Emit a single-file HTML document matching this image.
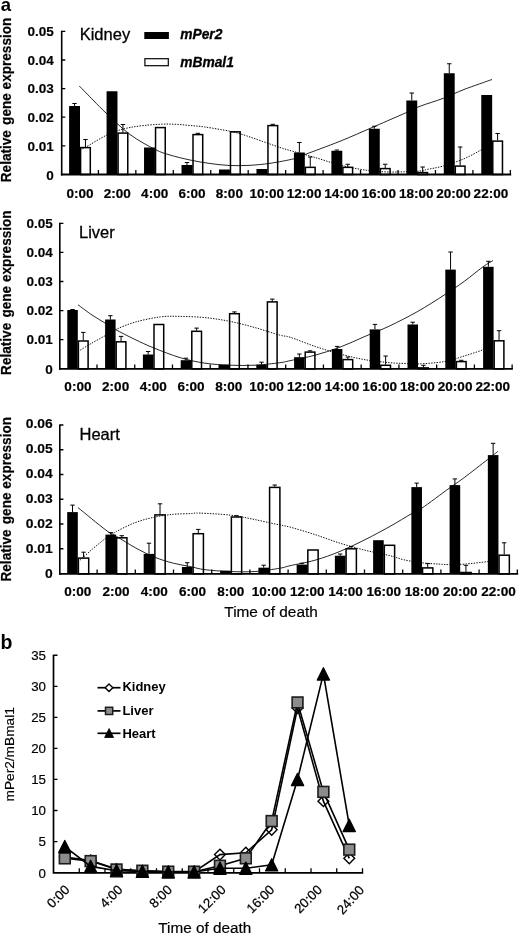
<!DOCTYPE html>
<html lang="en"><head><meta charset="utf-8"><title>Figure</title>
<style>html,body{margin:0;padding:0;background:#fff}svg{display:block}</style>
</head><body>
<svg width="519" height="934" viewBox="0 0 519 934" font-family="'Liberation Sans', sans-serif" fill="#000">
<rect x="0" y="0" width="519" height="934" fill="#fff"/>
<defs><filter id="soft" x="0" y="0" width="100%" height="100%" filterUnits="userSpaceOnUse"><feGaussianBlur stdDeviation="0.32"/></filter></defs>
<g filter="url(#soft)">
<g>
<path d="M74.55 106V103.5M72.35 103.5H76.75" stroke="#000" stroke-width="1" fill="none"/>
<rect x="69.1" y="106" width="10.9" height="68.5" fill="#000"/>
<path d="M85.45 147V139.5M83.25 139.5H87.65" stroke="#000" stroke-width="1" fill="none"/>
<rect x="80.6" y="147.6" width="9.7" height="26.9" fill="#fff" stroke="#000" stroke-width="1.5"/>
<rect x="106.57" y="91.25" width="10.9" height="83.25" fill="#000"/>
<path d="M122.92 132.5V124.5M120.72 124.5H125.12" stroke="#000" stroke-width="1" fill="none"/>
<rect x="118.07" y="133.1" width="9.7" height="41.4" fill="#fff" stroke="#000" stroke-width="1.5"/>
<rect x="144.04" y="147.5" width="10.9" height="27" fill="#000"/>
<rect x="155.54" y="127.6" width="9.7" height="46.9" fill="#fff" stroke="#000" stroke-width="1.5"/>
<path d="M186.96 165V162.5M184.76 162.5H189.16" stroke="#000" stroke-width="1" fill="none"/>
<rect x="181.51" y="165" width="10.9" height="9.5" fill="#000"/>
<path d="M197.86 134V133.3M195.66 133.3H200.06" stroke="#000" stroke-width="1" fill="none"/>
<rect x="193.01" y="134.6" width="9.7" height="39.9" fill="#fff" stroke="#000" stroke-width="1.5"/>
<rect x="218.98" y="169.5" width="10.9" height="5" fill="#000"/>
<rect x="230.48" y="131.85" width="9.7" height="42.65" fill="#fff" stroke="#000" stroke-width="1.5"/>
<rect x="256.45" y="169" width="10.9" height="5.5" fill="#000"/>
<path d="M272.8 125V124.3M270.6 124.3H275" stroke="#000" stroke-width="1" fill="none"/>
<rect x="267.95" y="125.6" width="9.7" height="48.9" fill="#fff" stroke="#000" stroke-width="1.5"/>
<path d="M299.37 152.5V142.5M297.17 142.5H301.57" stroke="#000" stroke-width="1" fill="none"/>
<rect x="293.92" y="152.5" width="10.9" height="22" fill="#000"/>
<path d="M310.27 166.75V157M308.07 157H312.47" stroke="#000" stroke-width="1" fill="none"/>
<rect x="305.42" y="167.35" width="9.7" height="7.15" fill="#fff" stroke="#000" stroke-width="1.5"/>
<path d="M336.84 150.75V150M334.64 150H339.04" stroke="#000" stroke-width="1" fill="none"/>
<rect x="331.39" y="150.75" width="10.9" height="23.75" fill="#000"/>
<path d="M347.74 166.75V164.25M345.54 164.25H349.94" stroke="#000" stroke-width="1" fill="none"/>
<rect x="342.89" y="167.35" width="9.7" height="7.15" fill="#fff" stroke="#000" stroke-width="1.5"/>
<path d="M374.31 128.75V126.25M372.11 126.25H376.51" stroke="#000" stroke-width="1" fill="none"/>
<rect x="368.86" y="128.75" width="10.9" height="45.75" fill="#000"/>
<path d="M385.21 168V164.25M383.01 164.25H387.41" stroke="#000" stroke-width="1" fill="none"/>
<rect x="380.36" y="168.6" width="9.7" height="5.9" fill="#fff" stroke="#000" stroke-width="1.5"/>
<path d="M411.78 100.5V93M409.58 93H413.98" stroke="#000" stroke-width="1" fill="none"/>
<rect x="406.33" y="100.5" width="10.9" height="74" fill="#000"/>
<path d="M422.68 172V167M420.48 167H424.88" stroke="#000" stroke-width="1" fill="none"/>
<rect x="417.83" y="172.6" width="9.7" height="1.9" fill="#fff" stroke="#000" stroke-width="1.5"/>
<path d="M449.25 73.25V63.75M447.05 63.75H451.45" stroke="#000" stroke-width="1" fill="none"/>
<rect x="443.8" y="73.25" width="10.9" height="101.25" fill="#000"/>
<path d="M460.15 165.5V147M457.95 147H462.35" stroke="#000" stroke-width="1" fill="none"/>
<rect x="455.3" y="166.1" width="9.7" height="8.4" fill="#fff" stroke="#000" stroke-width="1.5"/>
<rect x="481.27" y="95" width="10.9" height="79.5" fill="#000"/>
<path d="M497.62 140.5V133.5M495.42 133.5H499.82" stroke="#000" stroke-width="1" fill="none"/>
<rect x="492.77" y="141.1" width="9.7" height="33.4" fill="#fff" stroke="#000" stroke-width="1.5"/>
<path d="M79.3 86C81.58 88.33 88.42 95.38 93 100C97.58 104.62 100.58 108 106.75 113.75C112.92 119.5 121.96 128.56 130 134.5C138.04 140.44 148.33 145.98 155 149.4C161.67 152.82 164.17 153.23 170 155C175.83 156.77 183.33 158.58 190 160C196.67 161.42 203.33 162.58 210 163.5C216.67 164.42 223.33 165.2 230 165.5C236.67 165.8 243.33 165.67 250 165.3C256.67 164.93 262.67 164.39 270 163.3C277.33 162.21 288.17 160.22 294 158.75C299.83 157.28 297.33 157.42 305 154.5C312.67 151.58 328.33 145.96 340 141.25C351.67 136.54 363.92 131.04 375 126.25C386.08 121.46 399 115.83 406.5 112.5C414 109.17 413.85 108.62 420 106.25C426.15 103.88 436.07 101.04 443.4 98.25C450.73 95.46 455.9 92.62 464 89.5C472.1 86.38 487.33 81.17 492 79.5" stroke="#000" stroke-width="0.85" fill="none"/>
<path d="M80 149.5C80.83 149.17 80.53 149.92 85 147.5C89.47 145.08 101.3 137.83 106.8 135C112.3 132.17 114.13 131.75 118 130.5C121.87 129.25 125.67 128.33 130 127.5C134.33 126.67 139 126.04 144 125.5C149 124.96 154.83 124.46 160 124.25C165.17 124.04 170 124.04 175 124.25C180 124.46 185 125.04 190 125.5C195 125.96 198.33 126.04 205 127C211.67 127.96 224.17 130.12 230 131.25C235.83 132.38 235.83 132.5 240 133.75C244.17 135 248.33 136.46 255 138.75C261.67 141.04 273.7 145.42 280 147.5C286.3 149.58 286.97 149.58 292.8 151.25C298.63 152.92 307.13 155.21 315 157.5C322.87 159.79 331.67 162.92 340 165C348.33 167.08 356.67 168.83 365 170C373.33 171.17 380.83 171.83 390 172C399.17 172.17 413.9 171.42 420 171C426.1 170.58 422.7 170.33 426.6 169.5C430.5 168.67 437.17 167.79 443.4 166C449.63 164.21 457.73 161.42 464 158.75C470.27 156.08 476.33 152.62 481 150C485.67 147.38 490.17 144.17 492 143" stroke="#000" stroke-width="0.95" stroke-dasharray="1.4 1.3" fill="none"/>
<path d="M61.7 30.8V175.45" stroke="#000" stroke-width="1.6" fill="none"/>
<path d="M60.9 174.5H511.2" stroke="#000" stroke-width="1.9" fill="none"/>
<path d="M61.7 145.8h3.6M61.7 117.2h3.6M61.7 88.6h3.6M61.7 60h3.6M61.7 31.4h3.6M98.4 174.5v-4.5M135.85 174.5v-4.5M173.3 174.5v-4.5M210.75 174.5v-4.5M248.2 174.5v-4.5M285.65 174.5v-4.5M323.1 174.5v-4.5M360.55 174.5v-4.5M398 174.5v-4.5M435.45 174.5v-4.5M472.9 174.5v-4.5M510.35 174.5v-4.5" stroke="#000" stroke-width="1.3" fill="none"/>
<g font-size="12.8" font-weight="bold" text-anchor="end" stroke="#000" stroke-width="0.15">
<text transform="translate(53.9 179.5) scale(1.06 1)">0</text>
<text transform="translate(53.9 150.76) scale(1.06 1)">0.01</text>
<text transform="translate(53.9 122.02) scale(1.06 1)">0.02</text>
<text transform="translate(53.9 93.28) scale(1.06 1)">0.03</text>
<text transform="translate(53.9 64.54) scale(1.06 1)">0.04</text>
<text transform="translate(53.9 35.8) scale(1.06 1)">0.05</text>
</g>
<g font-size="12.9" font-weight="bold" text-anchor="middle" stroke="#000" stroke-width="0.2">
<text transform="translate(79.95 197.6) scale(1.05 1)">0:00</text>
<text transform="translate(117.31 197.6) scale(1.05 1)">2:00</text>
<text transform="translate(154.67 197.6) scale(1.05 1)">4:00</text>
<text transform="translate(192.03 197.6) scale(1.05 1)">6:00</text>
<text transform="translate(229.39 197.6) scale(1.05 1)">8:00</text>
<text transform="translate(266.75 197.6) scale(1.05 1)">10:00</text>
<text transform="translate(304.11 197.6) scale(1.05 1)">12:00</text>
<text transform="translate(341.47 197.6) scale(1.05 1)">14:00</text>
<text transform="translate(378.83 197.6) scale(1.05 1)">16:00</text>
<text transform="translate(416.19 197.6) scale(1.05 1)">18:00</text>
<text transform="translate(453.55 197.6) scale(1.05 1)">20:00</text>
<text transform="translate(490.91 197.6) scale(1.05 1)">22:00</text>
</g>
<g font-size="13.6" font-weight="bold" stroke="#000" stroke-width="0.2">
<text transform="translate(10.7 182.2) rotate(-90) scale(1 1.08)">Relative</text>
<text transform="translate(10.7 124.9) rotate(-90) scale(1 1.08)">gene</text>
<text transform="translate(10.7 89.4) rotate(-90) scale(1 1.08)">expression</text>
</g>
<text x="79.7" y="39.6" font-size="16.5" stroke="#000" stroke-width="0.3">Kidney</text>
</g>
<g>
<path d="M72.55 310V309.5M70.35 309.5H74.75" stroke="#000" stroke-width="1" fill="none"/>
<rect x="67.3" y="310" width="10.5" height="58.9" fill="#000"/>
<path d="M83.25 340.4V332.4M81.05 332.4H85.45" stroke="#000" stroke-width="1" fill="none"/>
<rect x="78.4" y="341" width="9.7" height="27.9" fill="#fff" stroke="#000" stroke-width="1.5"/>
<path d="M110.35 319.5V315.7M108.15 315.7H112.55" stroke="#000" stroke-width="1" fill="none"/>
<rect x="105.1" y="319.5" width="10.5" height="49.4" fill="#000"/>
<path d="M121.05 341.2V336.4M118.85 336.4H123.25" stroke="#000" stroke-width="1" fill="none"/>
<rect x="116.2" y="341.8" width="9.7" height="27.1" fill="#fff" stroke="#000" stroke-width="1.5"/>
<path d="M148.15 354.5V351.5M145.95 351.5H150.35" stroke="#000" stroke-width="1" fill="none"/>
<rect x="142.9" y="354.5" width="10.5" height="14.4" fill="#000"/>
<rect x="154" y="324.5" width="9.7" height="44.4" fill="#fff" stroke="#000" stroke-width="1.5"/>
<path d="M185.95 360.2V358.2M183.75 358.2H188.15" stroke="#000" stroke-width="1" fill="none"/>
<rect x="180.7" y="360.2" width="10.5" height="8.7" fill="#000"/>
<path d="M196.65 330.7V328.1M194.45 328.1H198.85" stroke="#000" stroke-width="1" fill="none"/>
<rect x="191.8" y="331.3" width="9.7" height="37.6" fill="#fff" stroke="#000" stroke-width="1.5"/>
<rect x="218.5" y="364.7" width="10.5" height="4.2" fill="#000"/>
<path d="M234.45 313.1V311.9M232.25 311.9H236.65" stroke="#000" stroke-width="1" fill="none"/>
<rect x="229.6" y="313.7" width="9.7" height="55.2" fill="#fff" stroke="#000" stroke-width="1.5"/>
<path d="M261.55 364.7V362.2M259.35 362.2H263.75" stroke="#000" stroke-width="1" fill="none"/>
<rect x="256.3" y="364.7" width="10.5" height="4.2" fill="#000"/>
<path d="M272.25 301.3V299.1M270.05 299.1H274.45" stroke="#000" stroke-width="1" fill="none"/>
<rect x="267.4" y="301.9" width="9.7" height="67" fill="#fff" stroke="#000" stroke-width="1.5"/>
<path d="M299.35 357.2V354M297.15 354H301.55" stroke="#000" stroke-width="1" fill="none"/>
<rect x="294.1" y="357.2" width="10.5" height="11.7" fill="#000"/>
<path d="M310.05 351.5V350.8M307.85 350.8H312.25" stroke="#000" stroke-width="1" fill="none"/>
<rect x="305.2" y="352.1" width="9.7" height="16.8" fill="#fff" stroke="#000" stroke-width="1.5"/>
<path d="M337.15 349V346.4M334.95 346.4H339.35" stroke="#000" stroke-width="1" fill="none"/>
<rect x="331.9" y="349" width="10.5" height="19.9" fill="#000"/>
<path d="M347.85 359V357M345.65 357H350.05" stroke="#000" stroke-width="1" fill="none"/>
<rect x="343" y="359.6" width="9.7" height="9.3" fill="#fff" stroke="#000" stroke-width="1.5"/>
<path d="M374.95 329.4V324.4M372.75 324.4H377.15" stroke="#000" stroke-width="1" fill="none"/>
<rect x="369.7" y="329.4" width="10.5" height="39.5" fill="#000"/>
<path d="M385.65 364.7V356M383.45 356H387.85" stroke="#000" stroke-width="1" fill="none"/>
<rect x="380.8" y="365.3" width="9.7" height="3.6" fill="#fff" stroke="#000" stroke-width="1.5"/>
<path d="M412.75 324.5V322.2M410.55 322.2H414.95" stroke="#000" stroke-width="1" fill="none"/>
<rect x="407.5" y="324.5" width="10.5" height="44.4" fill="#000"/>
<path d="M423.45 367.3V365.3M421.25 365.3H425.65" stroke="#000" stroke-width="1" fill="none"/>
<rect x="418.6" y="367.9" width="9.7" height="1" fill="#fff" stroke="#000" stroke-width="1.5"/>
<path d="M450.55 269.6V252M448.35 252H452.75" stroke="#000" stroke-width="1" fill="none"/>
<rect x="445.3" y="269.6" width="10.5" height="99.3" fill="#000"/>
<path d="M461.25 361V360.3M459.05 360.3H463.45" stroke="#000" stroke-width="1" fill="none"/>
<rect x="456.4" y="361.6" width="9.7" height="7.3" fill="#fff" stroke="#000" stroke-width="1.5"/>
<path d="M488.35 266.8V261.3M486.15 261.3H490.55" stroke="#000" stroke-width="1" fill="none"/>
<rect x="483.1" y="266.8" width="10.5" height="102.1" fill="#000"/>
<path d="M499.05 340.2V330.7M496.85 330.7H501.25" stroke="#000" stroke-width="1" fill="none"/>
<rect x="494.2" y="340.8" width="9.7" height="28.1" fill="#fff" stroke="#000" stroke-width="1.5"/>
<path d="M78 304.8C80.33 306.5 87.5 311.97 92 315C96.5 318.03 101.07 320.57 105 323C108.93 325.43 110.6 326.85 115.6 329.6C120.6 332.35 128.73 336.48 135 339.5C141.27 342.52 145.65 344.67 153.2 347.7C160.75 350.73 171.67 355.12 180.3 357.7C188.93 360.28 196.72 361.95 205 363.2C213.28 364.45 221.67 364.87 230 365.2C238.33 365.53 246.67 365.62 255 365.2C263.33 364.78 274.17 363.45 280 362.7C285.83 361.95 284.17 361.95 290 360.7C295.83 359.45 306.67 357.45 315 355.2C323.33 352.95 331.67 350.33 340 347.2C348.33 344.07 356.75 339.93 365 336.4C373.25 332.87 380.7 330.17 389.5 326C398.3 321.83 408.57 316.63 417.8 311.4C427.03 306.17 437.17 299.6 444.9 294.6C452.63 289.6 457.85 286.03 464.2 281.4C470.55 276.77 478.2 270.27 483 266.8C487.8 263.33 491.33 261.63 493 260.6" stroke="#000" stroke-width="0.85" fill="none"/>
<path d="M78 351.5C80.33 350.08 87.48 345.63 92 343C96.52 340.37 101.17 337.93 105.1 335.7C109.03 333.47 110.58 331.87 115.6 329.6C120.62 327.33 127.75 324.22 135.2 322.1C142.65 319.98 152.83 317.85 160.3 316.9C167.77 315.95 172.55 316.28 180 316.4C187.45 316.52 196.67 316.77 205 317.6C213.33 318.43 221.67 319.73 230 321.4C238.33 323.07 246.67 325.3 255 327.6C263.33 329.9 274.17 333.6 280 335.2C285.83 336.8 284.17 335.33 290 337.2C295.83 339.07 306.67 343.6 315 346.4C323.33 349.2 331.67 351.78 340 354C348.33 356.22 356.67 358.25 365 359.7C373.33 361.15 383.33 362.07 390 362.7C396.67 363.33 400.37 363.28 405 363.5C409.63 363.72 411.15 364.33 417.8 364C424.45 363.67 437.17 362.83 444.9 361.5C452.63 360.17 457.85 357.95 464.2 356C470.55 354.05 478.2 351.63 483 349.8C487.8 347.97 491.33 345.8 493 345" stroke="#000" stroke-width="0.95" stroke-dasharray="1.4 1.3" fill="none"/>
<path d="M59.8 222.8V369.85" stroke="#000" stroke-width="1.6" fill="none"/>
<path d="M59 368.9H512.8" stroke="#000" stroke-width="1.9" fill="none"/>
<path d="M59.8 339.64h3.6M59.8 310.58h3.6M59.8 281.52h3.6M59.8 252.46h3.6M59.8 223.4h3.6M97 368.9v-4.5M134.74 368.9v-4.5M172.48 368.9v-4.5M210.22 368.9v-4.5M247.96 368.9v-4.5M285.7 368.9v-4.5M323.44 368.9v-4.5M361.18 368.9v-4.5M398.92 368.9v-4.5M436.66 368.9v-4.5M474.4 368.9v-4.5M512.14 368.9v-4.5" stroke="#000" stroke-width="1.3" fill="none"/>
<g font-size="12.8" font-weight="bold" text-anchor="end" stroke="#000" stroke-width="0.15">
<text transform="translate(52.8 373.5) scale(1.06 1)">0</text>
<text transform="translate(52.8 344.3) scale(1.06 1)">0.01</text>
<text transform="translate(52.8 315.1) scale(1.06 1)">0.02</text>
<text transform="translate(52.8 285.9) scale(1.06 1)">0.03</text>
<text transform="translate(52.8 256.7) scale(1.06 1)">0.04</text>
<text transform="translate(52.8 227.5) scale(1.06 1)">0.05</text>
</g>
<g font-size="12.9" font-weight="bold" text-anchor="middle" stroke="#000" stroke-width="0.2">
<text transform="translate(77.9 391.3) scale(1.05 1)">0:00</text>
<text transform="translate(115.62 391.3) scale(1.05 1)">2:00</text>
<text transform="translate(153.34 391.3) scale(1.05 1)">4:00</text>
<text transform="translate(191.06 391.3) scale(1.05 1)">6:00</text>
<text transform="translate(228.78 391.3) scale(1.05 1)">8:00</text>
<text transform="translate(266.5 391.3) scale(1.05 1)">10:00</text>
<text transform="translate(304.22 391.3) scale(1.05 1)">12:00</text>
<text transform="translate(341.94 391.3) scale(1.05 1)">14:00</text>
<text transform="translate(379.66 391.3) scale(1.05 1)">16:00</text>
<text transform="translate(417.38 391.3) scale(1.05 1)">18:00</text>
<text transform="translate(455.1 391.3) scale(1.05 1)">20:00</text>
<text transform="translate(492.82 391.3) scale(1.05 1)">22:00</text>
</g>
<g font-size="13.6" font-weight="bold" stroke="#000" stroke-width="0.2">
<text transform="translate(11 374.9) rotate(-90) scale(1 1.08)">Relative</text>
<text transform="translate(11 317.6) rotate(-90) scale(1 1.08)">gene</text>
<text transform="translate(11 282.1) rotate(-90) scale(1 1.08)">expression</text>
</g>
<text x="79" y="237.6" font-size="16.5" stroke="#000" stroke-width="0.3">Liver</text>
</g>
<g>
<path d="M72.5 512.1V505.1M70.3 505.1H74.7" stroke="#000" stroke-width="1" fill="none"/>
<rect x="67.2" y="512.1" width="10.6" height="61.8" fill="#000"/>
<path d="M83.55 557.5V552.2M81.35 552.2H85.75" stroke="#000" stroke-width="1" fill="none"/>
<rect x="78.4" y="558.1" width="10.3" height="15.8" fill="#fff" stroke="#000" stroke-width="1.5"/>
<path d="M110.74 534.6V532.6M108.54 532.6H112.94" stroke="#000" stroke-width="1" fill="none"/>
<rect x="105.44" y="534.6" width="10.6" height="39.3" fill="#000"/>
<path d="M121.79 537.2V535.7M119.59 535.7H123.99" stroke="#000" stroke-width="1" fill="none"/>
<rect x="116.64" y="537.8" width="10.3" height="36.1" fill="#fff" stroke="#000" stroke-width="1.5"/>
<path d="M148.98 553.9V543.2M146.78 543.2H151.18" stroke="#000" stroke-width="1" fill="none"/>
<rect x="143.68" y="553.9" width="10.6" height="20" fill="#000"/>
<path d="M160.03 514.3V503.8M157.83 503.8H162.23" stroke="#000" stroke-width="1" fill="none"/>
<rect x="154.88" y="514.9" width="10.3" height="59" fill="#fff" stroke="#000" stroke-width="1.5"/>
<path d="M187.22 567V562.7M185.02 562.7H189.42" stroke="#000" stroke-width="1" fill="none"/>
<rect x="181.92" y="567" width="10.6" height="6.9" fill="#000"/>
<path d="M198.27 533.1V529.4M196.07 529.4H200.47" stroke="#000" stroke-width="1" fill="none"/>
<rect x="193.12" y="533.7" width="10.3" height="40.2" fill="#fff" stroke="#000" stroke-width="1.5"/>
<rect x="220.16" y="570.7" width="10.6" height="3.2" fill="#000"/>
<path d="M236.51 516.4V515.7M234.31 515.7H238.71" stroke="#000" stroke-width="1" fill="none"/>
<rect x="231.36" y="517" width="10.3" height="56.9" fill="#fff" stroke="#000" stroke-width="1.5"/>
<path d="M263.7 567.7V565.2M261.5 565.2H265.9" stroke="#000" stroke-width="1" fill="none"/>
<rect x="258.4" y="567.7" width="10.6" height="6.2" fill="#000"/>
<path d="M274.75 486.8V485M272.55 485H276.95" stroke="#000" stroke-width="1" fill="none"/>
<rect x="269.6" y="487.4" width="10.3" height="86.5" fill="#fff" stroke="#000" stroke-width="1.5"/>
<path d="M301.94 564.6V563.2M299.74 563.2H304.14" stroke="#000" stroke-width="1" fill="none"/>
<rect x="296.64" y="564.6" width="10.6" height="9.3" fill="#000"/>
<rect x="307.84" y="550" width="10.3" height="23.9" fill="#fff" stroke="#000" stroke-width="1.5"/>
<path d="M340.18 555.7V554M337.98 554H342.38" stroke="#000" stroke-width="1" fill="none"/>
<rect x="334.88" y="555.7" width="10.6" height="18.2" fill="#000"/>
<path d="M351.23 548.2V546.4M349.03 546.4H353.43" stroke="#000" stroke-width="1" fill="none"/>
<rect x="346.08" y="548.8" width="10.3" height="25.1" fill="#fff" stroke="#000" stroke-width="1.5"/>
<rect x="373.12" y="540.2" width="10.6" height="33.7" fill="#000"/>
<rect x="384.32" y="545.3" width="10.3" height="28.6" fill="#fff" stroke="#000" stroke-width="1.5"/>
<path d="M416.66 487.1V483.1M414.46 483.1H418.86" stroke="#000" stroke-width="1" fill="none"/>
<rect x="411.36" y="487.1" width="10.6" height="86.8" fill="#000"/>
<path d="M427.71 567.3V563.6M425.51 563.6H429.91" stroke="#000" stroke-width="1" fill="none"/>
<rect x="422.56" y="567.9" width="10.3" height="6" fill="#fff" stroke="#000" stroke-width="1.5"/>
<path d="M454.9 485.1V478.9M452.7 478.9H457.1" stroke="#000" stroke-width="1" fill="none"/>
<rect x="449.6" y="485.1" width="10.6" height="88.8" fill="#000"/>
<path d="M465.95 571.9V565.3M463.75 565.3H468.15" stroke="#000" stroke-width="1" fill="none"/>
<rect x="460.8" y="572.5" width="10.3" height="1.4" fill="#fff" stroke="#000" stroke-width="1.5"/>
<path d="M493.14 455.1V443.3M490.94 443.3H495.34" stroke="#000" stroke-width="1" fill="none"/>
<rect x="487.84" y="455.1" width="10.6" height="118.8" fill="#000"/>
<path d="M504.19 554.6V542.8M501.99 542.8H506.39" stroke="#000" stroke-width="1" fill="none"/>
<rect x="499.04" y="555.2" width="10.3" height="18.7" fill="#fff" stroke="#000" stroke-width="1.5"/>
<path d="M78 507.6C82.65 511.35 99.47 525.3 105.9 530.1C112.33 534.9 111.72 533.47 116.6 536.4C121.48 539.33 128.85 544.23 135.2 547.7C141.55 551.17 148.35 554.62 154.7 557.2C161.05 559.78 167.42 561.65 173.3 563.2C179.18 564.75 184.72 565.42 190 566.5C195.28 567.58 198.33 568.87 205 569.7C211.67 570.53 221.67 571.2 230 571.5C238.33 571.8 246.67 572.05 255 571.5C263.33 570.95 274.17 569.17 280 568.2C285.83 567.23 284.17 567.03 290 565.7C295.83 564.37 306.67 562.58 315 560.2C323.33 557.82 331.67 554.82 340 551.4C348.33 547.98 356.67 543.87 365 539.7C373.33 535.53 382.28 530.72 390 526.4C397.72 522.08 406 516.83 411.3 513.8C416.6 510.77 415.45 512.48 421.8 508.2C428.15 503.92 442.33 493.2 449.4 488.1C456.47 483 457.85 482.35 464.2 477.6C470.55 472.85 481.87 463.98 487.5 459.6C493.13 455.22 496.25 452.68 498 451.3" stroke="#000" stroke-width="0.85" fill="none"/>
<path d="M80 560.2C82.1 558.32 88.28 552.57 92.6 548.9C96.92 545.23 101.9 541.12 105.9 538.2C109.9 535.28 111.72 534 116.6 531.4C121.48 528.8 128.85 524.98 135.2 522.6C141.55 520.22 148.35 518.48 154.7 517.1C161.05 515.72 167.42 514.88 173.3 514.3C179.18 513.72 185.55 513.8 190 513.6C194.45 513.4 193.33 512.85 200 513.1C206.67 513.35 220.83 514.02 230 515.1C239.17 516.18 246.67 517.93 255 519.6C263.33 521.27 274.17 523.85 280 525.1C285.83 526.35 284.17 525.52 290 527.1C295.83 528.68 306.67 531.92 315 534.6C323.33 537.28 331.67 540.6 340 543.2C348.33 545.8 356.67 548.12 365 550.2C373.33 552.28 383.5 554.1 390 555.7C396.5 557.3 398.7 558.62 404 559.8C409.3 560.98 415.95 562.08 421.8 562.8C427.65 563.52 434.5 563.8 439.1 564.1C443.7 564.4 445.22 564.6 449.4 564.6C453.58 564.6 457.85 564.6 464.2 564.1C470.55 563.6 481.87 562.37 487.5 561.6C493.13 560.83 496.25 559.85 498 559.5" stroke="#000" stroke-width="0.95" stroke-dasharray="1.4 1.3" fill="none"/>
<path d="M59.8 424.4V574.85" stroke="#000" stroke-width="1.6" fill="none"/>
<path d="M59 573.9H518.2" stroke="#000" stroke-width="1.9" fill="none"/>
<path d="M59.8 548.75h3.6M59.8 524h3.6M59.8 499.25h3.6M59.8 474.5h3.6M59.8 449.75h3.6M59.8 425h3.6M97.1 573.9v-4.5M135.3 573.9v-4.5M173.5 573.9v-4.5M211.7 573.9v-4.5M249.9 573.9v-4.5M288.1 573.9v-4.5M326.3 573.9v-4.5M364.5 573.9v-4.5M402.7 573.9v-4.5M440.9 573.9v-4.5M479.1 573.9v-4.5M517.3 573.9v-4.5" stroke="#000" stroke-width="1.3" fill="none"/>
<g font-size="13.1" font-weight="bold" text-anchor="end" stroke="#000" stroke-width="0.15">
<text transform="translate(52.8 577.5) scale(1.06 1)">0</text>
<text transform="translate(52.8 552.63) scale(1.06 1)">0.01</text>
<text transform="translate(52.8 527.77) scale(1.06 1)">0.02</text>
<text transform="translate(52.8 502.9) scale(1.06 1)">0.03</text>
<text transform="translate(52.8 478.03) scale(1.06 1)">0.04</text>
<text transform="translate(52.8 453.17) scale(1.06 1)">0.05</text>
<text transform="translate(52.8 428.3) scale(1.06 1)">0.06</text>
</g>
<g font-size="12.9" font-weight="bold" text-anchor="middle" stroke="#000" stroke-width="0.2">
<text transform="translate(77.8 596.4) scale(1.05 1)">0:00</text>
<text transform="translate(116.04 596.4) scale(1.05 1)">2:00</text>
<text transform="translate(154.28 596.4) scale(1.05 1)">4:00</text>
<text transform="translate(192.52 596.4) scale(1.05 1)">6:00</text>
<text transform="translate(230.76 596.4) scale(1.05 1)">8:00</text>
<text transform="translate(269 596.4) scale(1.05 1)">10:00</text>
<text transform="translate(307.24 596.4) scale(1.05 1)">12:00</text>
<text transform="translate(345.48 596.4) scale(1.05 1)">14:00</text>
<text transform="translate(383.72 596.4) scale(1.05 1)">16:00</text>
<text transform="translate(421.96 596.4) scale(1.05 1)">18:00</text>
<text transform="translate(460.2 596.4) scale(1.05 1)">20:00</text>
<text transform="translate(498.44 596.4) scale(1.05 1)">22:00</text>
</g>
<g font-size="13.6" font-weight="bold" stroke="#000" stroke-width="0.2">
<text transform="translate(11 581.5) rotate(-90) scale(1 1.08)">Relative</text>
<text transform="translate(11 524.2) rotate(-90) scale(1 1.08)">gene</text>
<text transform="translate(11 488.7) rotate(-90) scale(1 1.08)">expression</text>
</g>
<text x="79.5" y="440.1" font-size="16.5" stroke="#000" stroke-width="0.3">Heart</text>
</g>
<text x="0.8" y="10.8" font-size="18.5" font-weight="bold">a</text>
<text x="0.6" y="648.9" font-size="19.5" font-weight="bold">b</text>
<rect x="144.3" y="32" width="24.6" height="7" fill="#000"/>
<rect x="144.9" y="58.7" width="23.4" height="7" fill="#fff" stroke="#000" stroke-width="1.2"/>
<text x="180.2" y="39.3" font-size="13.8" font-weight="bold" font-style="italic" stroke="#000" stroke-width="0.3">mPer2</text>
<text x="180.2" y="66.6" font-size="13.8" font-weight="bold" font-style="italic" stroke="#000" stroke-width="0.3">mBmal1</text>
<text x="224.3" y="617.1" font-size="15.4" stroke="#000" stroke-width="0.2">Time of death</text>
<g>
<path d="M53.5 654.65V872.8H363.2" stroke="#000" stroke-width="1.7" fill="none"/>
<path d="M53.5 841.55h4M53.5 810.5h4M53.5 779.45h4M53.5 748.4h4M53.5 717.35h4M53.5 686.3h4M53.5 655.25h4M79.25 872.8v-4.6M105 872.8v-4.6M130.75 872.8v-4.6M156.5 872.8v-4.6M182.25 872.8v-4.6M208 872.8v-4.6M233.75 872.8v-4.6M259.5 872.8v-4.6M285.25 872.8v-4.6M311 872.8v-4.6M336.75 872.8v-4.6M362.5 872.8v-4.6" stroke="#000" stroke-width="1.3" fill="none"/>
<polyline points="64.8,857.08 90.66,860.49 116.52,869.06 142.38,871.17 168.24,871.92 194.1,871.92 219.96,854.59 245.82,852.73 271.68,829.75 297.54,708.04 323.4,801.19 349.26,858.32" fill="none" stroke="#000" stroke-width="1.6"/>
<path d="M64.8 851.68L70.2 857.08L64.8 862.48L59.4 857.08Z" fill="none" stroke="#000" stroke-width="1.4"/>
<path d="M90.66 855.09L96.06 860.49L90.66 865.89L85.26 860.49Z" fill="none" stroke="#000" stroke-width="1.4"/>
<path d="M116.52 863.66L121.92 869.06L116.52 874.46L111.12 869.06Z" fill="none" stroke="#000" stroke-width="1.4"/>
<path d="M142.38 865.77L147.78 871.17L142.38 876.57L136.98 871.17Z" fill="none" stroke="#000" stroke-width="1.4"/>
<path d="M168.24 866.52L173.64 871.92L168.24 877.32L162.84 871.92Z" fill="none" stroke="#000" stroke-width="1.4"/>
<path d="M194.1 866.52L199.5 871.92L194.1 877.32L188.7 871.92Z" fill="none" stroke="#000" stroke-width="1.4"/>
<path d="M219.96 849.19L225.36 854.59L219.96 859.99L214.56 854.59Z" fill="none" stroke="#000" stroke-width="1.4"/>
<path d="M245.82 847.33L251.22 852.73L245.82 858.13L240.42 852.73Z" fill="none" stroke="#000" stroke-width="1.4"/>
<path d="M271.68 824.35L277.08 829.75L271.68 835.15L266.28 829.75Z" fill="none" stroke="#000" stroke-width="1.4"/>
<path d="M297.54 702.64L302.94 708.04L297.54 713.44L292.14 708.04Z" fill="none" stroke="#000" stroke-width="1.4"/>
<path d="M323.4 795.79L328.8 801.19L323.4 806.59L318 801.19Z" fill="none" stroke="#000" stroke-width="1.4"/>
<path d="M349.26 852.92L354.66 858.32L349.26 863.72L343.86 858.32Z" fill="none" stroke="#000" stroke-width="1.4"/>
<polyline points="64.8,858.32 90.66,861.11 116.52,869.5 142.38,870.74 168.24,871.67 194.1,871.67 219.96,865.77 245.82,858.32 271.68,821.06 297.54,702.45 323.4,791.87 349.26,849.62" fill="none" stroke="#000" stroke-width="1.6"/>
<rect x="59.4" y="852.92" width="10.8" height="10.8" fill="#8c8c8c" stroke="#1a1a1a" stroke-width="1.6"/>
<rect x="85.26" y="855.71" width="10.8" height="10.8" fill="#8c8c8c" stroke="#1a1a1a" stroke-width="1.6"/>
<rect x="111.12" y="864.1" width="10.8" height="10.8" fill="#8c8c8c" stroke="#1a1a1a" stroke-width="1.6"/>
<rect x="136.98" y="865.34" width="10.8" height="10.8" fill="#8c8c8c" stroke="#1a1a1a" stroke-width="1.6"/>
<rect x="162.84" y="866.27" width="10.8" height="10.8" fill="#8c8c8c" stroke="#1a1a1a" stroke-width="1.6"/>
<rect x="188.7" y="866.27" width="10.8" height="10.8" fill="#8c8c8c" stroke="#1a1a1a" stroke-width="1.6"/>
<rect x="214.56" y="860.37" width="10.8" height="10.8" fill="#8c8c8c" stroke="#1a1a1a" stroke-width="1.6"/>
<rect x="240.42" y="852.92" width="10.8" height="10.8" fill="#8c8c8c" stroke="#1a1a1a" stroke-width="1.6"/>
<rect x="266.28" y="815.66" width="10.8" height="10.8" fill="#8c8c8c" stroke="#1a1a1a" stroke-width="1.6"/>
<rect x="292.14" y="697.05" width="10.8" height="10.8" fill="#8c8c8c" stroke="#1a1a1a" stroke-width="1.6"/>
<rect x="318" y="786.47" width="10.8" height="10.8" fill="#8c8c8c" stroke="#1a1a1a" stroke-width="1.6"/>
<rect x="343.86" y="844.22" width="10.8" height="10.8" fill="#8c8c8c" stroke="#1a1a1a" stroke-width="1.6"/>
<polyline points="64.8,846.52 90.66,866.39 116.52,870.74 142.38,871.36 168.24,871.98 194.1,871.98 219.96,868.25 245.82,868.25 271.68,864.84 297.54,779.45 323.4,673.88 349.26,825.4" fill="none" stroke="#000" stroke-width="1.6"/>
<path d="M64.8 840.42L70.9 852.62H58.7Z" fill="#000" stroke="#000" stroke-width="1.3" stroke-linejoin="round"/>
<path d="M90.66 860.29L96.76 872.49H84.56Z" fill="#000" stroke="#000" stroke-width="1.3" stroke-linejoin="round"/>
<path d="M116.52 864.64L122.62 876.84H110.42Z" fill="#000" stroke="#000" stroke-width="1.3" stroke-linejoin="round"/>
<path d="M142.38 865.26L148.48 877.46H136.28Z" fill="#000" stroke="#000" stroke-width="1.3" stroke-linejoin="round"/>
<path d="M168.24 865.88L174.34 878.08H162.14Z" fill="#000" stroke="#000" stroke-width="1.3" stroke-linejoin="round"/>
<path d="M194.1 865.88L200.2 878.08H188Z" fill="#000" stroke="#000" stroke-width="1.3" stroke-linejoin="round"/>
<path d="M219.96 862.15L226.06 874.35H213.86Z" fill="#000" stroke="#000" stroke-width="1.3" stroke-linejoin="round"/>
<path d="M245.82 862.15L251.92 874.35H239.72Z" fill="#000" stroke="#000" stroke-width="1.3" stroke-linejoin="round"/>
<path d="M271.68 858.74L277.78 870.94H265.58Z" fill="#000" stroke="#000" stroke-width="1.3" stroke-linejoin="round"/>
<path d="M297.54 773.35L303.64 785.55H291.44Z" fill="#000" stroke="#000" stroke-width="1.3" stroke-linejoin="round"/>
<path d="M323.4 667.78L329.5 679.98H317.3Z" fill="#000" stroke="#000" stroke-width="1.3" stroke-linejoin="round"/>
<path d="M349.26 819.3L355.36 831.5H343.16Z" fill="#000" stroke="#000" stroke-width="1.3" stroke-linejoin="round"/>
<g font-size="13.3" text-anchor="end" stroke="#000" stroke-width="0.2">
<text x="46" y="877.5">0</text>
<text x="46" y="846.45">5</text>
<text x="46" y="815.4">10</text>
<text x="46" y="784.35">15</text>
<text x="46" y="753.3">20</text>
<text x="46" y="722.25">25</text>
<text x="46" y="691.2">30</text>
<text x="46" y="660.15">35</text>
</g>
<text transform="translate(14.1 801.5) rotate(-90)" font-size="13.7" stroke="#000" stroke-width="0.15">mPer2/mBmal1</text>
<g font-size="13.2" text-anchor="end" stroke="#000" stroke-width="0.25">
<text transform="translate(70.5 890.6) rotate(-45)">0:00</text>
<text transform="translate(123.5 890.6) rotate(-45)">4:00</text>
<text transform="translate(172.9 890.6) rotate(-45)">8:00</text>
<text transform="translate(226.6 890.6) rotate(-45)">12:00</text>
<text transform="translate(275.3 890.6) rotate(-45)">16:00</text>
<text transform="translate(323 890.6) rotate(-45)">20:00</text>
<text transform="translate(364.8 890.6) rotate(-48)">24:00</text>
</g>
<text x="158.3" y="933.1" font-size="15.3" stroke="#000" stroke-width="0.2">Time of death</text>
<path d="M97.5 687.7H120.5" stroke="#000" stroke-width="1.7"/>
<path d="M109 683.9L112.8 687.7L109 691.5L105.2 687.7Z" fill="#fff" stroke="#000" stroke-width="1.4"/>
<text x="122.4" y="691.3" font-size="13" font-weight="bold">Kidney</text>
<path d="M97.5 710.9H120.5" stroke="#000" stroke-width="1.7"/>
<rect x="105.5" y="707.3" width="7.2" height="7.2" fill="#8c8c8c" stroke="#1a1a1a" stroke-width="1.5"/>
<text x="122.4" y="714.7" font-size="13" font-weight="bold">Liver</text>
<path d="M97.5 733.3H120.5" stroke="#000" stroke-width="1.7"/>
<path d="M109.1 728.5L113.6 737.5H104.6Z" fill="#000" stroke="#000" stroke-width="0.8" stroke-linejoin="round"/>
<text x="122.4" y="737.5" font-size="13" font-weight="bold">Heart</text>
</g>
</g>
</svg>
</body></html>
